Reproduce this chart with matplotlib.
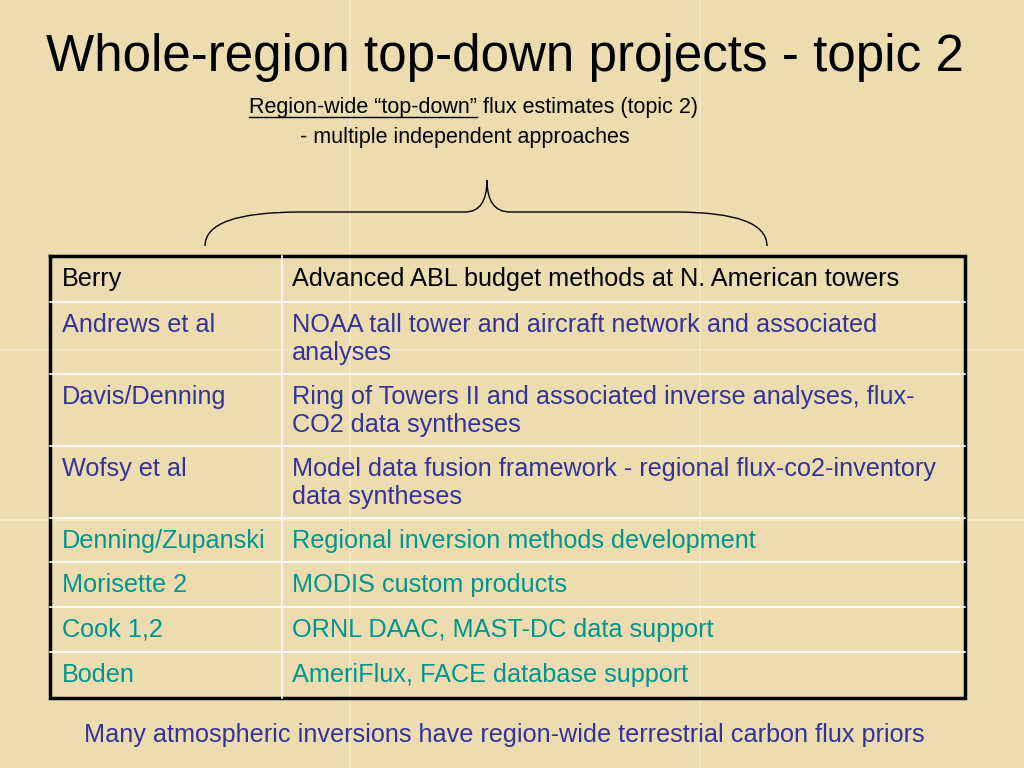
import matplotlib.pyplot as plt
import numpy as np
from matplotlib.path import Path
from matplotlib.patches import PathPatch

plt.rcParams['font.family'] = ['Liberation Sans', 'DejaVu Sans']

title = "Whole-region top-down projects - topic 2"
sub_under = "Region-wide \u201ctop-down\u201d"
sub_rest = " flux estimates (topic 2)"
sub_line2 = "- multiple independent approaches"
footer = "Many atmospheric inversions have region-wide terrestrial carbon flux priors"

names = ["Berry", "Andrews et al", "Davis/Denning", "Wofsy et al",
         "Denning/Zupanski", "Morisette 2", "Cook 1,2", "Boden"]
descs = ["Advanced ABL budget methods at N. American towers",
         "NOAA tall tower and aircraft network and associated\nanalyses",
         "Ring of Towers II and associated inverse analyses, flux-\nCO2 data syntheses",
         "Model data fusion framework - regional flux-co2-inventory\ndata syntheses",
         "Regional inversion methods development",
         "MODIS custom products",
         "ORNL DAAC, MAST-DC data support",
         "AmeriFlux, FACE database support"]
groups = ["black", "blue", "blue", "blue", "teal", "teal", "teal", "teal"]
colors = {"black": "black", "blue": "#333399", "teal": "#00968f"}

# table geometry (pixels)
row_edges = [256, 302, 374, 446, 518, 562, 607, 652, 698]
x0, xs, x1 = 50, 282, 965

fig = plt.figure(figsize=(10.24, 7.68), dpi=100)
fig.patch.set_facecolor("#ecdcaf")
ax = fig.add_axes([0, 0, 1, 1])
ax.set_xlim(0, 1024)
ax.set_ylim(768, 0)
ax.axis("off")

# faint tile seams of the parchment background
for x in [350, 700]:
    ax.axvline(x, color="#f3e8c8", lw=1.2, zorder=0)
for y in [350, 520]:
    ax.axhline(y, color="#f3e8c8", lw=1.2, zorder=0)

ax.text(505, 58, title, fontsize=36.8, ha="center", va="center")

t1 = ax.text(249, 107, sub_under, fontsize=15.5, va="center")
fig.canvas.draw()
bb = t1.get_window_extent().transformed(ax.transData.inverted())
ax.text(bb.x1, 107, sub_rest, fontsize=15.5, va="center")
ax.plot([bb.x0, bb.x1], [bb.y0 - 1, bb.y0 - 1], color="black", lw=1)
ax.text(300, 138, sub_line2, fontsize=15.5, va="center")

# brace
verts = [(205, 246), (205, 212), (300, 212), (300, 212), (465, 212),
         (487, 212), (487, 180), (487, 212), (510, 212), (675, 212),
         (675, 212), (767, 212), (767, 246)]
codes = [Path.MOVETO, Path.CURVE3, Path.CURVE3, Path.LINETO, Path.LINETO,
         Path.CURVE3, Path.CURVE3, Path.CURVE3, Path.CURVE3, Path.LINETO,
         Path.LINETO, Path.CURVE3, Path.CURVE3]
ax.add_patch(PathPatch(Path(verts, codes), fill=False, lw=1, color="black"))

# table
ax.plot([x0, x1, x1, x0, x0], [row_edges[0], row_edges[0], row_edges[-1], row_edges[-1], row_edges[0]],
        color="black", lw=2.5, solid_joinstyle="miter")
for y in row_edges[1:-1]:
    ax.plot([x0, x1], [y, y], color="white", lw=1.2)
ax.plot([xs, xs], [row_edges[0], row_edges[-1]], color="white", lw=1.2)

for i, (n, d, g) in enumerate(zip(names, descs, groups)):
    top = row_edges[i]
    c = colors[g]
    ax.text(62, top + 11, n, fontsize=18.2, color=c, va="top")
    ax.text(292, top + 11, d, fontsize=18.2, color=c, va="top", linespacing=1.2)

ax.text(504, 735, footer, fontsize=18.2, color="#333399", ha="center", va="center")

fig.savefig("out.png", dpi=100, facecolor=fig.get_facecolor())
